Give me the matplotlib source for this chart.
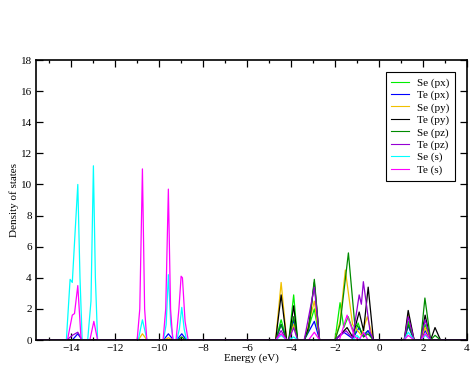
import matplotlib
matplotlib.use("Agg")
import matplotlib.pyplot as plt
from matplotlib.ticker import MultipleLocator

plt.rcParams['font.family'] = ['Liberation Serif', 'DejaVu Serif']

# projected DOS (energy in eV, DOS)
se_px_e = [-15.6, -4.7, -4.45, -4.2, -4.1, -3.88, -3.7, -3.4, -3.2, -2.94, -2.7,
           -2.0, -1.77, -1.6, -1.4, -1.1, -0.95, -0.75, -0.5, -0.25,
           1.15, 1.33, 1.6, 1.9, 2.1, 2.35, 4.0]
se_px_d = [0, 0, 1.3, 0, 0, 2.9, 0, 0, 0.8, 2.0, 0,
           0, 2.4, 0.8, 1.5, 0.3, 1.1, 0.3, 0.6, 0,
           0, 1.2, 0, 0, 1.0, 0, 0]

te_px_e = [-15.6, -13.95, -13.7, -13.5, -9.8, -9.58, -9.35, -9.2, -8.97, -8.75,
           -4.7, -4.45, -4.2, -4.1, -3.88, -3.7, -3.4, -2.94, -2.7,
           -2.0, -1.6, -1.2, -0.9, -0.7, -0.5, -0.25,
           1.15, 1.33, 1.6, 1.9, 2.1, 2.35, 4.0]
te_px_d = [0, 0, 0.4, 0, 0, 0.4, 0, 0, 0.4, 0,
           0, 1.0, 0, 0, 1.3, 0, 0, 1.2, 0,
           0, 0.5, 0.1, 0.8, 0.2, 0.6, 0,
           0, 0.9, 0, 0, 0.6, 0, 0]

se_py_e = [-15.6, -10.95, -10.76, -10.55, -9.75, -9.58, -9.4,
           -4.7, -4.45, -4.2, -4.1, -3.88, -3.7, -3.4, -3.2, -2.94, -2.7,
           -2.0, -1.77, -1.53, -1.2, -0.8, -0.53, -0.25,
           1.15, 1.33, 1.6, 1.9, 2.1, 2.35, 4.0]
se_py_d = [0, 0, 0.4, 0, 0, 0.15, 0,
           0, 3.7, 0, 0, 1.0, 0, 0, 1.0, 2.5, 0,
           0, 1.2, 4.5, 1.0, 0.3, 1.5, 0,
           0, 1.6, 0, 0, 0.8, 0, 0]

te_py_e = [-15.6, -4.7, -4.45, -4.2, -4.1, -3.88, -3.7, -3.4, -3.2, -2.94, -2.7,
           -2.0, -1.45, -1.2, -0.9, -0.7, -0.49, -0.25,
           1.15, 1.33, 1.6, 1.9, 2.1, 2.35, 2.55, 2.8, 4.0]
te_py_d = [0, 0, 2.9, 0, 0, 2.2, 0, 0, 0.8, 3.7, 0,
           0, 0.8, 0.2, 1.8, 0.6, 3.4, 0,
           0, 1.9, 0, 0, 1.6, 0, 0.8, 0, 0]

se_pz_e = [-15.6, -9.15, -8.97, -8.8,
           -4.7, -4.45, -4.2, -4.1, -3.88, -3.7, -3.4, -3.2, -2.94, -2.7,
           -2.0, -1.77, -1.39, -1.1, -0.9, -0.7, -0.5, -0.25,
           1.15, 1.33, 1.6, 1.9, 2.09, 2.35, 2.55, 2.8, 4.0]
se_pz_d = [0, 0, 0.2, 0,
           0, 1.0, 0, 0, 1.5, 0, 0, 0.6, 3.9, 0,
           0, 1.0, 5.6, 1.0, 0.8, 0.2, 0.4, 0,
           0, 1.0, 0, 0, 2.7, 0, 0.3, 0, 0]

te_pz_e = [-15.6, -14.2, -13.95, -13.7, -13.5,
           -4.7, -4.45, -4.2, -4.1, -3.88, -3.7, -3.4, -2.94, -2.7,
           -2.0, -1.5, -1.2, -0.9, -0.8, -0.71, -0.4, -0.25,
           1.15, 1.33, 1.6, 1.9, 2.1, 2.35, 4.0]
te_pz_d = [0, 0, 0.3, 0.5, 0,
           0, 0.6, 0, 0, 0.8, 0, 0, 3.4, 0,
           0, 0.6, 0.1, 2.9, 2.3, 3.75, 0.5, 0,
           0, 1.5, 0, 0, 1.3, 0, 0]

se_s_e = [-15.6, -14.22, -14.05, -13.95, -13.82, -13.70, -13.6, -13.5,
          -13.25, -13.1, -12.99, -12.9, -12.8,
          -10.95, -10.76, -10.55,
          -9.8, -9.68, -9.58, -9.47, -9.35,
          -9.2, -9.08, -8.97, -8.86, -8.75,
          -4.7, -4.45, -4.2, -4.1, -3.88, -3.7, -1.2, -1.0, -0.8,
          1.15, 1.33, 1.6, 1.9, 2.1, 2.35, 4.0]
se_s_d = [0, 0, 3.9, 3.7, 7.0, 10.0, 4.0, 0,
          0, 2.5, 11.2, 4.0, 0,
          0, 1.3, 0,
          0, 1.0, 4.2, 1.0, 0,
          0, 0.7, 2.1, 0.7, 0,
          0, 0.3, 0, 0, 0.2, 0, 0, 0.3, 0,
          0, 0.5, 0, 0, 0.3, 0, 0]

te_s_e = [-15.6, -14.17, -13.95, -13.85, -13.70, -13.55,
          -13.15, -12.97, -12.8,
          -11.0, -10.88, -10.76, -10.66, -10.56,
          -9.82, -9.7, -9.58, -9.48, -9.38,
          -9.23, -9.1, -9.0, -8.94, -8.82, -8.68,
          -4.7, -4.45, -4.2, -3.2, -2.94, -2.7,
          -1.8, -1.45, -1.1, -0.9, -0.7, -0.5,
          1.15, 1.33, 1.6, 1.9, 2.1, 2.35, 4.0]
te_s_d = [0, 0, 1.6, 1.7, 3.5, 0,
          0, 1.2, 0,
          0, 2.0, 11.0, 2.0, 0,
          0, 2.0, 9.7, 2.0, 0,
          0, 2.0, 4.1, 4.0, 1.2, 0,
          0, 0.4, 0, 0, 0.5, 0,
          0, 1.6, 0.2, 0, 0.5, 0,
          0, 0.3, 0, 0, 0.4, 0, 0]

series = [
    ("Se (px)", se_px_e, se_px_d, "#00ee00"),
    ("Te (px)", te_px_e, te_px_d, "#0000ff"),
    ("Se (py)", se_py_e, se_py_d, "#f0c000"),
    ("Te (py)", te_py_e, te_py_d, "#000000"),
    ("Se (pz)", se_pz_e, se_pz_d, "#008b00"),
    ("Te (pz)", te_pz_e, te_pz_d, "#9400d3"),
    ("Se (s)", se_s_e, se_s_d, "#00ffff"),
    ("Te (s)", te_s_e, te_s_d, "#ff00ff"),
]

fig = plt.figure(figsize=(4.74, 3.66), dpi=100)
ax = fig.add_axes([0.076, 0.071, 0.909, 0.765])

for name, e, d, c in series:
    ax.plot(e, d, color=c, lw=0.9, label=name)

ax.set_xlim(-15.6, 4)
ax.set_ylim(0, 18)
ax.set_xticks(range(-14, 5, 2))
ax.xaxis.set_minor_locator(MultipleLocator(1))
ax.set_yticks(range(0, 19, 2))
ax.tick_params(which='both', direction='in', top=True, right=True,
               labelsize=8, pad=3, width=0.9)
ax.tick_params(which='major', length=5)
ax.tick_params(which='minor', length=2.5)
for s in ax.spines.values():
    s.set_linewidth(1.2)

ax.set_xlabel("Energy (eV)", fontsize=8, labelpad=0)
ax.set_ylabel("Density of states", fontsize=8, labelpad=1)

leg = ax.legend(loc='upper right', bbox_to_anchor=(0.972, 0.957), fontsize=8,
                fancybox=False, edgecolor='black', framealpha=1,
                handlelength=1.6, labelspacing=0.22, borderpad=0.5,
                handletextpad=0.7, borderaxespad=0)
leg.get_frame().set_linewidth(0.8)
for h in leg.get_lines():
    h.set_linewidth(0.8)

fig.savefig("out.png", dpi=100)
